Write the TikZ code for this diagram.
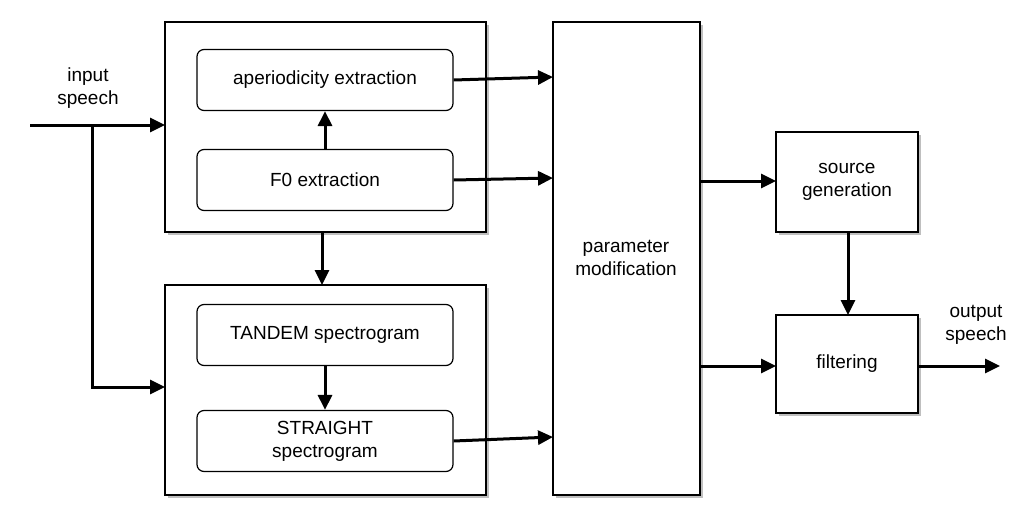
\documentclass[tikz,border=0pt]{standalone}
\usepackage{fontspec}
\setmainfont{Liberation Sans}
\usetikzlibrary{shadows,arrows.meta}
\begin{document}
\begin{tikzpicture}[x=1pt,y=-1pt,
  box/.style={draw,line width=1.5pt,fill=white,drop shadow={shadow xshift=3pt,shadow yshift=-3pt,opacity=0.5}},
  rbox/.style={draw,line width=1.2pt,fill=white,rounded corners=7pt},
  arr/.style={line width=3pt,-{Triangle[length=15pt,width=14pt]}},
  lbl/.style={font=\fontsize{19}{23}\selectfont,align=center}]
\useasboundingbox (0,0) rectangle (1028,527);
\path[box] (165,22) rectangle (486,232) coordinate (b1);
\path[box] (165,285) rectangle (486,495) coordinate (b2);
\path[box] (553,22) rectangle (700,495);
\path[box] (776,132) rectangle (918,232);
\path[box] (776,315) rectangle (918,413);
\node[rbox,minimum width=256pt,minimum height=61pt,lbl] (ap) at (325,80) {aperiodicity extraction};
\node[rbox,minimum width=256pt,minimum height=61pt,lbl] (f0) at (325,180) {F0 extraction};
\node[rbox,minimum width=256pt,minimum height=61pt,lbl] (td) at (325,335) {TANDEM spectrogram};
\node[rbox,minimum width=256pt,minimum height=61pt,lbl] (st) at (325,441) {STRAIGHT\\spectrogram};
\node[lbl] (pm) at (626,258) {parameter\\modification};
\node[lbl,align=center,text width=130pt] (sg) at (847,182) {source\\generation};
\node[lbl] (fl) at (847,364) {filtering};
\node[lbl] (in) at (88,88) {input\\speech};
\node[lbl] (out) at (976,325) {output\\speech};
\coordinate (s) at (30,125); \coordinate (j) at (92,125);
\draw[arr] (s) -- (165,125);
\draw[arr] (j) -- (92,387) -- (165,387);
\draw[arr] (f0.north) -- (ap.south);
\draw[arr] (td.south) -- (st.north);
\draw[arr] (322,232) -- (322,285);
\draw[arr] (ap.east) -- (553,77);
\draw[arr] (f0.east) -- (553,178);
\draw[arr] (st.east) -- (553,437);
\draw[arr] (700,181) -- (776,181);
\draw[arr] (700,366) -- (776,366);
\draw[arr] (848,232) -- (848,315);
\draw[arr] (918,366) -- (1000,366);
\end{tikzpicture}
\end{document}
